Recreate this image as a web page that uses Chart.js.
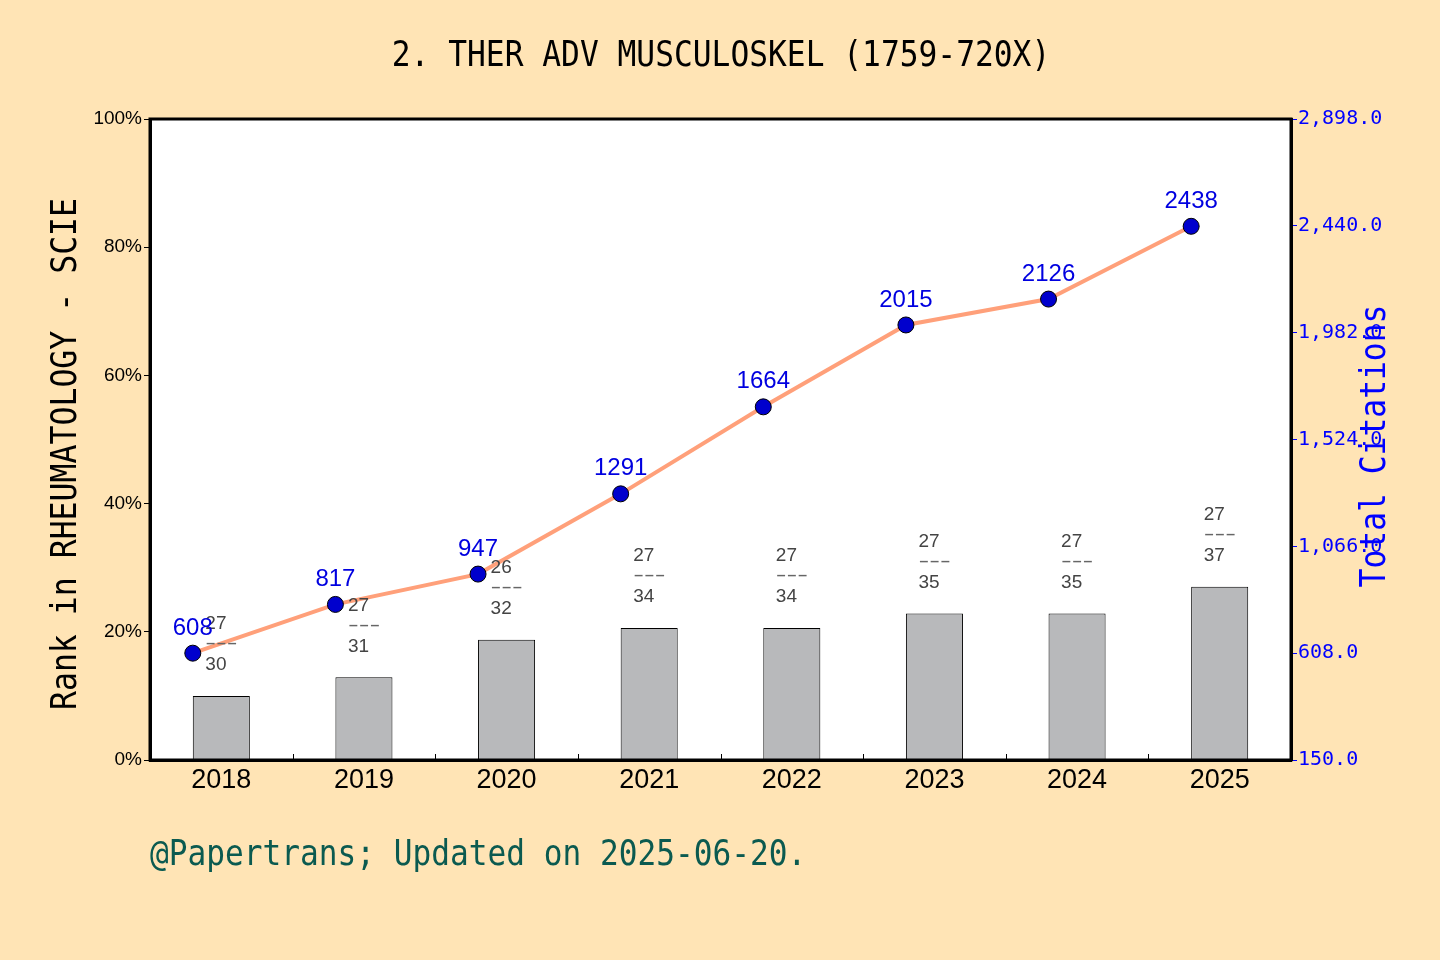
<!DOCTYPE html>
<html>
<head>
<meta charset="utf-8">
<script src="https://cdn.jsdelivr.net/npm/chart.js@4"></script>
<style>
  html, body { margin: 0; padding: 0; background: #FFE4B5; }
  #wrap { width: 1440px; height: 960px; }
</style>
</head>
<body>
<div id="wrap"><canvas id="c" width="1440" height="960"></canvas></div>
<script>
// ---- data ----
const years = ['2018', '2019', '2020', '2021', '2022', '2023', '2024', '2025'];
const ranks = [27, 27, 26, 27, 27, 27, 27, 27];
const totals = [30, 31, 32, 34, 34, 35, 35, 37];
const citations = [608, 817, 947, 1291, 1664, 2015, 2126, 2438];
const leftTickValues = [0, 20, 40, 60, 80, 100];
const rightTickValues = [150, 608, 1066, 1524, 1982, 2440, 2898];
const titleText = '2. THER ADV MUSCULOSKEL (1759-720X)';
const leftAxisTitle = 'Rank in RHEUMATOLOGY - SCIE';
const rightAxisTitle = 'Total Citations';
const footerText = '@Papertrans; Updated on 2025-06-20.';

// bar value: share of journals ranked below (percentage)
const barValues = ranks.map((r, i) => (totals[i] - r) / totals[i] * 100);
const lineOffset = -0.2;
const linePoints = citations.map((v, i) => ({ x: i + lineOffset, y: v }));

const MONO = '"DejaVu Sans Mono", "Liberation Mono", monospace';
const SANS = '"Liberation Sans", Arial, sans-serif';

// draw text horizontally condensed (mimics a narrow CJK-style mono face)
function narrowText(ctx, text, x, y, sx, angle, align) {
  ctx.save();
  ctx.translate(x, y);
  if (angle) ctx.rotate(angle);
  ctx.scale(sx, 1);
  ctx.textAlign = align;
  ctx.textBaseline = 'middle';
  ctx.fillText(text, 0, 0);
  ctx.restore();
}

const decorPlugin = {
  id: 'decor',
  beforeDraw(chart) {
    const ctx = chart.ctx, a = chart.chartArea;
    ctx.save();
    ctx.fillStyle = '#FFE4B5';
    ctx.fillRect(0, 0, chart.width, chart.height);
    ctx.fillStyle = '#FFFFFF';
    ctx.fillRect(a.left, a.top, a.right - a.left, a.bottom - a.top);
    ctx.restore();
  },
  afterDatasetsDraw(chart) {
    const ctx = chart.ctx;
    ctx.save();
    // rank labels above bars
    const barMeta = chart.getDatasetMeta(1);
    ctx.font = '19px ' + SANS;
    ctx.textAlign = 'left';
    ctx.textBaseline = 'middle';
    barMeta.data.forEach((el, i) => {
      const x = el.x - 16;
      ctx.fillStyle = '#444444';
      ctx.fillText(String(ranks[i]), x, el.y - 72);
      ctx.fillText(String(totals[i]), x, el.y - 31);
      ctx.fillStyle = '#666666';
      ctx.save();
      ctx.translate(x, el.y - 52);
      ctx.scale(1.7, 1);
      ctx.fillText('---', 0, 0);
      ctx.restore();
    });
    // citation labels above points
    const lineMeta = chart.getDatasetMeta(0);
    ctx.font = '24px ' + SANS;
    ctx.fillStyle = '#0000E0';
    ctx.textAlign = 'center';
    lineMeta.data.forEach((el, i) => {
      ctx.fillText(String(citations[i]), el.x, el.y - 25);
    });
    ctx.restore();
  },
  afterDraw(chart) {
    const ctx = chart.ctx, a = chart.chartArea;
    ctx.save();
    // frame
    ctx.strokeStyle = '#000';
    ctx.lineWidth = 3;
    ctx.strokeRect(a.left, a.top, a.right - a.left, a.bottom - a.top);
    // inward ticks at category boundaries
    const x2 = chart.scales.x2;
    ctx.lineWidth = 1;
    for (let i = 1; i < years.length; i++) {
      const px = Math.round(x2.getPixelForValue(i - 0.5)) + 0.5;
      ctx.beginPath();
      ctx.moveTo(px, a.bottom);
      ctx.lineTo(px, a.bottom - 6);
      ctx.stroke();
    }
    ctx.font = '36px ' + MONO;
    // title
    ctx.fillStyle = '#000';
    narrowText(ctx, titleText, 721, 57, 0.868, 0, 'center');
    // footer
    ctx.fillStyle = '#0B5A50';
    narrowText(ctx, footerText, 150, 856, 0.865, 0, 'left');
    // left axis title
    ctx.fillStyle = '#000';
    narrowText(ctx, leftAxisTitle, 67, 454, 0.875, -Math.PI / 2, 'center');
    // right axis title
    ctx.fillStyle = '#0000FF';
    narrowText(ctx, rightAxisTitle, 1376, 446, 0.87, -Math.PI / 2, 'center');
    ctx.restore();
  }
};

new Chart(document.getElementById('c'), {
  data: {
    labels: years,
    datasets: [
      {
        type: 'line',
        label: 'Total Citations',
        data: linePoints,
        xAxisID: 'x2',
        yAxisID: 'y2',
        borderColor: '#FFA07A',
        borderWidth: 4,
        pointRadius: 8,
        pointBackgroundColor: '#0000CD',
        pointBorderColor: '#000000',
        pointBorderWidth: 1,
        tension: 0,
        order: 0
      },
      {
        type: 'bar',
        label: 'Rank',
        data: barValues,
        xAxisID: 'x',
        yAxisID: 'y',
        backgroundColor: '#B8B9BB',
        borderColor: '#000000',
        borderWidth: 1,
        barPercentage: 0.4,
        categoryPercentage: 1.0,
        grouped: false,
        order: 1
      }
    ]
  },
  options: {
    responsive: false,
    animation: false,
    devicePixelRatio: 1,
    layout: { padding: { top: 119, left: 0, right: 0, bottom: 0 } },
    plugins: { legend: { display: false }, tooltip: { enabled: false }, title: { display: false } },
    scales: {
      x: {
        type: 'category',
        offset: true,
        grid: { display: false, drawTicks: false },
        border: { display: true, color: '#000', width: 3 },
        ticks: { color: '#000', font: { family: SANS, size: 27 }, padding: 4, maxRotation: 0 },
        afterFit(s) { s.height = 200; }
      },
      x2: {
        type: 'linear',
        display: false,
        min: -0.5,
        max: years.length - 0.5
      },
      y: {
        type: 'linear',
        position: 'left',
        min: 0,
        max: 100,
        afterBuildTicks(s) { s.ticks = leftTickValues.map(v => ({ value: v })); },
        grid: { drawOnChartArea: false, drawTicks: true, tickLength: 6, color: '#000', tickWidth: 1 },
        border: { display: true, color: '#000', width: 3 },
        ticks: { color: '#000', font: { family: SANS, size: 19 }, padding: 2, callback: v => v + '%' },
        afterFit(s) { s.width = 150; }
      },
      y2: {
        type: 'linear',
        position: 'right',
        min: 150,
        max: 2898,
        afterBuildTicks(s) { s.ticks = rightTickValues.map(v => ({ value: v })); },
        grid: { drawOnChartArea: false, drawTicks: true, tickLength: 6, color: '#0000FF', tickWidth: 1 },
        border: { display: true, color: '#000', width: 3 },
        ticks: {
          color: '#0000FF',
          font: { family: MONO, size: 20 },
          padding: 1,
          callback: v => Number(v).toLocaleString('en-US', { minimumFractionDigits: 1, maximumFractionDigits: 1 })
        },
        afterFit(s) { s.width = 149; }
      }
    }
  },
  plugins: [decorPlugin]
});
</script>
</body>
</html>
